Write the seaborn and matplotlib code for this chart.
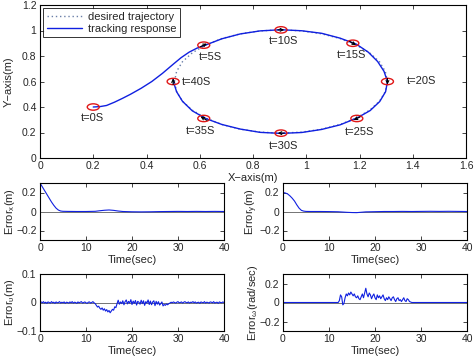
import numpy as np
import pandas as pd
import matplotlib
matplotlib.use("Agg")
import matplotlib.pyplot as plt
from matplotlib.patches import Ellipse
import seaborn as sns

# ---------------- data ----------------
desired_x = [0.505, 0.513, 0.535, 0.572, 0.622, 0.683, 0.752, 0.827, 0.905, 0.983, 1.058, 1.127,
             1.188, 1.238, 1.275, 1.297, 1.305, 1.297, 1.275, 1.238, 1.188, 1.127, 1.058, 0.983,
             0.905, 0.827, 0.752, 0.683, 0.622, 0.572, 0.535, 0.513, 0.505]
desired_y = [0.600, 0.679, 0.755, 0.825, 0.886, 0.937, 0.974, 0.997, 1.005, 0.997, 0.974, 0.937,
             0.886, 0.825, 0.755, 0.679, 0.600, 0.521, 0.445, 0.375, 0.314, 0.263, 0.226, 0.203,
             0.195, 0.203, 0.226, 0.263, 0.314, 0.375, 0.445, 0.521, 0.600]

response_x = [0.20, 0.225, 0.25, 0.28, 0.31, 0.34, 0.38, 0.42, 0.46, 0.50, 0.53, 0.56, 0.59, 0.622,
              0.683, 0.752, 0.827, 0.905, 0.983, 1.058, 1.127, 1.188, 1.233, 1.268, 1.292, 1.305,
              1.298, 1.276, 1.240, 1.190, 1.127, 1.058, 0.983, 0.905, 0.827, 0.752, 0.683, 0.622,
              0.572, 0.535, 0.513, 0.503, 0.500]
response_y = [0.40, 0.403, 0.412, 0.438, 0.468, 0.500, 0.547, 0.600, 0.664, 0.735, 0.787, 0.830,
              0.862, 0.886, 0.935, 0.973, 0.997, 1.006, 0.998, 0.978, 0.940, 0.893, 0.830, 0.757,
              0.680, 0.600, 0.520, 0.443, 0.372, 0.313, 0.260, 0.224, 0.200, 0.193, 0.201, 0.227,
              0.263, 0.310, 0.370, 0.445, 0.520, 0.585, 0.620]

mark_labels = ["t=0S", "t=5S", "t=10S", "t=15S", "t=20S", "t=25S", "t=30S", "t=35S", "t=40S"]
mark_x = [0.200, 0.615, 0.905, 1.175, 1.305, 1.190, 0.905, 0.615, 0.500]
mark_y = [0.400, 0.885, 1.005, 0.900, 0.600, 0.310, 0.195, 0.310, 0.600]
label_x = [0.197, 0.641, 0.915, 1.169, 1.431, 1.200, 0.915, 0.601, 0.587]
label_y = [0.310, 0.790, 0.920, 0.808, 0.604, 0.206, 0.097, 0.214, 0.594]
heading_dx = [0.0, 1.0, 1.0, 1.0, 0.0, -1.0, -1.0, -1.0, 0.0]
heading_dy = [0.0, 0.5, 0.0, -0.6, -1.0, -0.5, 0.0, 0.6, 1.0]

xy_time = [0, 0.5, 1, 1.5, 2, 2.5, 3, 3.5, 4, 4.5, 5, 6, 8, 10, 12, 13, 14, 15, 16, 17, 18,
           20, 22, 24, 26, 28, 30, 32, 34, 36, 38, 40]
error_x = [0.30, 0.26, 0.22, 0.18, 0.14, 0.10, 0.065, 0.035, 0.015, 0.005, 0.002, 0.001, 0.0,
           0.0, 0.002, 0.008, 0.013, 0.016, 0.012, 0.005, 0.0, -0.003, -0.004, -0.003, -0.001,
           0.0, 0.001, 0.0, 0.001, 0.0, 0.001, 0.0]
error_y = [0.20, 0.195, 0.185, 0.165, 0.14, 0.11, 0.07, 0.035, 0.012, 0.004, 0.001, 0.0, 0.0,
           -0.001, -0.003, -0.006, -0.009, -0.011, -0.012, -0.008, -0.004, -0.002, 0.0, 0.0,
           0.001, 0.0, 0.001, 0.002, 0.001, 0.002, 0.001, 0.0]

error_u = [0.000, 0.002, -0.001, 0.003, -0.002, 0.001, -0.003, 0.002, 0.000, -0.002, 0.003, -0.001,
           0.001, -0.003, 0.002, -0.001, 0.000, 0.003, -0.002, 0.001, -0.001, 0.002, -0.003, 0.001,
           0.000, -0.002, 0.002, -0.001, 0.003, -0.002, 0.001, 0.000, -0.003, 0.002, -0.001, 0.001,
           0.003, -0.002, 0.000, 0.002, -0.001, -0.003, 0.001, 0.002, -0.002, 0.000, 0.003, -0.001,
           -0.004, -0.010, -0.016, -0.013, -0.020, -0.024, -0.019, -0.027, -0.022, -0.030, -0.025,
           -0.033, -0.028, -0.036, -0.030, -0.024, -0.027, -0.015, -0.018, -0.004,
           0.008, -0.006, 0.002, -0.004, 0.006, -0.008, 0.003, 0.009, -0.005, 0.004, -0.002, 0.010,
           -0.007, 0.005, -0.003, 0.007, -0.009, 0.004, 0.001, -0.006, 0.008, -0.004, 0.006, -0.010,
           0.003, -0.002, 0.009, -0.007, 0.005, -0.008, 0.002, 0.006, -0.011, 0.004, -0.006, 0.003,
           -0.009, -0.004, 0.002, -0.012, -0.007, -0.010, -0.005, -0.008,
           -0.004, -0.002, 0.001, -0.001, 0.002, 0.000, -0.002, 0.001, 0.003, -0.001, 0.000, 0.002,
           -0.002, 0.001, 0.003, 0.000, -0.001, 0.002, -0.002, 0.001, 0.000, 0.003, -0.001, 0.002,
           -0.002, 0.000, 0.001, -0.003, 0.002, 0.000, -0.001, 0.003, -0.002, 0.001, 0.000, -0.002,
           0.002, 0.001, -0.001, 0.003, -0.002, 0.000, 0.001, -0.003, 0.002, 0.000, -0.001, 0.002,
           0.000]

error_w = [0.0] * 49 + [
    0.02, 0.08, 0.06, -0.025, -0.01, 0.05, 0.09, 0.07, 0.10, 0.08, 0.11, 0.09, 0.07, 0.09, 0.06,
    0.05, 0.07, 0.04, 0.03, 0.06, 0.09, 0.05, 0.10, 0.15, 0.09, 0.06, 0.10, 0.08, 0.04, 0.07,
    0.09, 0.05, 0.03, 0.08, 0.05, 0.07, 0.04, 0.06, 0.08, 0.04, 0.02, 0.05, 0.03, 0.06, 0.04,
    0.02, 0.05, 0.06, 0.03, 0.01, 0.04, 0.05, 0.02, 0.03, 0.01, 0.03, 0.05, 0.02, 0.01, 0.04,
    0.03, 0.01, 0.005, 0.0] + [0.0] * 48

xticks_top = [0, 0.2, 0.4, 0.6, 0.8, 1.0, 1.2, 1.4, 1.6]
xtick_labels_top = ["0", "0.2", "0.4", "0.6", "0.8", "1", "1.2", "1.4", "1.6"]
yticks_top = [0, 0.2, 0.4, 0.6, 0.8, 1.0, 1.2]
ytick_labels_top = ["0", "0.2", "0.4", "0.6", "0.8", "1", "1.2"]
time_ticks = [0, 10, 20, 30, 40]
time_tick_labels = ["0", "10", "20", "30", "40"]
err_ticks_02 = [-0.2, 0, 0.2]
err_labels_02 = ["\u22120.2", "0", "0.2"]
err_ticks_01 = [-0.1, 0, 0.1]
err_labels_01 = ["\u22120.1", "0", "0.1"]

# ---------------- style ----------------
sns.set_style("ticks")
plt.rcParams["font.family"] = ["Liberation Sans", "DejaVu Sans"]
plt.rcParams["mathtext.fontset"] = "custom"
plt.rcParams["mathtext.rm"] = "Liberation Sans"
plt.rcParams["mathtext.it"] = "Liberation Sans"
FS = 8
TFS = 7.5
BLUE = "#1020e0"

fig = plt.figure(figsize=(4.74, 3.56), dpi=100)
W, H = 474.0, 356.0
def add_ax(l, r, t, b):
    return fig.add_axes([l / W, 1 - b / H, (r - l) / W, (b - t) / H])

ax = add_ax(40, 466, 5, 158)
ax_ex = add_ax(40, 224, 183, 240)
ax_ey = add_ax(283, 467, 183, 240)
ax_eu = add_ax(40, 224, 274, 331)
ax_ew = add_ax(283, 467, 274, 331)

def style(a):
    for s in a.spines.values():
        s.set_linewidth(0.8)
        s.set_color("black")
    a.tick_params(direction="in", top=True, right=True, length=3, width=0.6,
                  labelsize=TFS, pad=2.5)

# ---- top trajectory plot ----
sns.lineplot(x=desired_x, y=desired_y, sort=False, estimator=None, ax=ax,
             color="#6a7fa8", linestyle=(0, (1, 2)), lw=1.0, label="desired trajectory")
sns.lineplot(x=response_x, y=response_y, sort=False, estimator=None, ax=ax,
             color=BLUE, lw=1.0, label="tracking response")
for i in range(len(mark_x)):
    ax.add_patch(Ellipse((mark_x[i], mark_y[i]), width=0.045, height=0.05, fill=False,
                         edgecolor="#e01818", lw=1.0, zorder=5))
    if heading_dx[i] != 0 or heading_dy[i] != 0:
        dx = heading_dx[i] * 0.012
        dy = heading_dy[i] * 0.024
        ax.annotate("", xy=(mark_x[i] + dx, mark_y[i] + dy),
                    xytext=(mark_x[i] - dx, mark_y[i] - dy),
                    arrowprops=dict(arrowstyle="->", color="black", lw=0.8,
                                    mutation_scale=5, shrinkA=0, shrinkB=0), zorder=6)
    ax.text(label_x[i], label_y[i], mark_labels[i], fontsize=FS, ha="center", va="center")

ax.set_xlim(0, 1.6)
ax.set_ylim(0, 1.2)
ax.set_xticks(xticks_top)
ax.set_xticklabels(xtick_labels_top)
ax.set_yticks(yticks_top)
ax.set_yticklabels(ytick_labels_top)
ax.set_xlabel("X\u2212axis(m)", fontsize=FS, labelpad=1)
ax.set_ylabel("Y\u2212axis(m)", fontsize=FS)
ax.yaxis.set_label_coords(-0.062, 0.5)
style(ax)
leg = ax.legend(loc="upper left", fontsize=FS, frameon=True, fancybox=False,
                edgecolor="black", handlelength=3.2, borderpad=0.3, labelspacing=0.2,
                handletextpad=0.5, borderaxespad=0.3)
leg.get_frame().set_linewidth(0.7)

# ---- error plots ----
def err_plot(a, t, v, ticks, labels, ylim, ylabel):
    a.axhline(0, color="0.45", lw=0.7, zorder=1)
    sns.lineplot(x=t, y=v, ax=a, color=BLUE, lw=0.8, estimator=None, zorder=2)
    a.set_xlim(0, 40)
    a.set_ylim(*ylim)
    a.set_xticks(time_ticks)
    a.set_xticklabels(time_tick_labels)
    a.set_yticks(ticks)
    a.set_yticklabels(labels)
    a.set_xlabel("Time(sec)", fontsize=FS, labelpad=1)
    a.set_ylabel(ylabel, fontsize=FS)
    a.yaxis.set_label_coords(-0.125, 0.5)
    style(a)

t_u = np.linspace(0, 40, len(error_u))
t_w = np.linspace(0, 40, len(error_w))
err_plot(ax_ex, xy_time, error_x, err_ticks_02, err_labels_02, (-0.3, 0.3), r"Error$_{x}$(m)")
err_plot(ax_ey, xy_time, error_y, err_ticks_02, err_labels_02, (-0.3, 0.3), r"Error$_{y}$(m)")
err_plot(ax_eu, t_u, error_u, err_ticks_01, err_labels_01, (-0.1, 0.1), "Error$_{\u03c5}$(m)")
err_plot(ax_ew, t_w, error_w, err_ticks_02, err_labels_02, (-0.3, 0.3),
         "Error$_{\u03c9}$(rad/sec)")

fig.savefig("out.png", dpi=100)
